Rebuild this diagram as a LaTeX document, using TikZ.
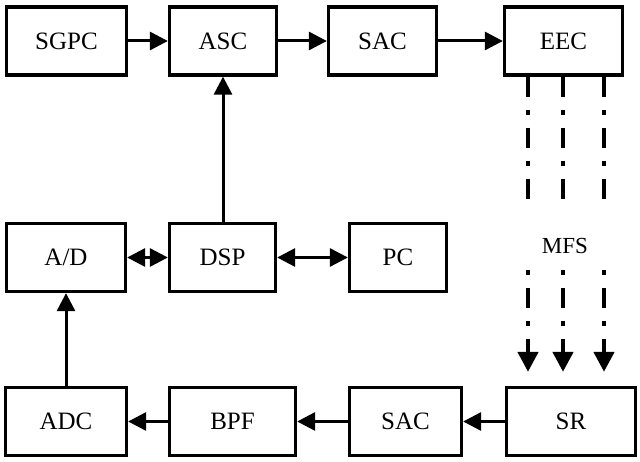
\documentclass[tikz,border=0pt]{standalone}
\usepackage{fontspec}
\setmainfont{Liberation Serif}
\usepackage{tikz}
\usetikzlibrary{arrows.meta,positioning,calc}

\begin{document}
\begin{tikzpicture}[
  x=1pt, y=-1pt,
  font=\fontsize{25}{29}\selectfont,
  blk/.style={draw=black, line width=3.3pt, minimum height=68pt, inner sep=0pt},
  link/.style={line width=3pt, -{Triangle[length=18pt,width=18pt]}},
  twoway/.style={line width=3pt, {Triangle[length=18pt,width=18pt]}-{Triangle[length=18pt,width=18pt]}},
  mfsline/.style={line width=4.5pt, dash pattern=on 20pt off 13pt on 5pt off 13pt}
]
  \useasboundingbox (0,0) rectangle (640,462);

  % upper chain
  \node[blk, minimum width=120pt] (SGPC) at (66.5,41) {SGPC};
  \node[blk, minimum width=107pt] (ASC)  at (223,41)  {ASC};
  \node[blk, minimum width=108pt] (SACa) at (382.5,41) {SAC};
  \node[blk, minimum width=118pt] (EEC)  at (563.5,41) {EEC};

  % processing row
  \node[blk, minimum width=119pt] (AD)  at (66,257.5)  {A/D};
  \node[blk, minimum width=106pt] (DSP) at (222.5,257.5) {DSP};
  \node[blk, minimum width=97pt]  (PC)  at (398,257.5) {PC};

  % receiving chain
  \node[blk, minimum width=121pt] (ADC)  at (66,421.5)   {ADC};
  \node[blk, minimum width=126pt] (BPF)  at (232.5,421.5) {BPF};
  \node[blk, minimum width=112pt] (SACb) at (405.5,421.5) {SAC};
  \node[blk, minimum width=129pt] (SR)   at (571,421.5)  {SR};

  \node[font=\fontsize{23}{27}\selectfont] (MFS) at (565,246) {MFS};

  \draw[link] (SGPC) -- (ASC);
  \draw[link] (ASC) -- (SACa);
  \draw[link] (SACa) -- (EEC);
  \draw[link] (DSP.north -| ASC) -- (ASC.south);
  \draw[twoway] (AD) -- (DSP);
  \draw[twoway] (DSP) -- (PC);
  \draw[link] (SR) -- (SACb);
  \draw[link] (SACb) -- (BPF);
  \draw[link] (BPF) -- (ADC);
  \draw[link] (ADC.north -| AD) -- (AD.south);

  % magnetic field lines through the sample
  \foreach \x [count=\i] in {528,563,604} {
    \coordinate (up\i) at (\x,202);
    \coordinate (lo\i) at (\x,270);
    \draw[mfsline] (EEC.south -| up\i) -- (up\i);
    \draw[mfsline, dash phase=33pt, shorten >=14pt, -{Triangle[length=20pt,width=20pt]}]
      (lo\i) -- (SR.north -| lo\i);
  }
\end{tikzpicture}
\end{document}
